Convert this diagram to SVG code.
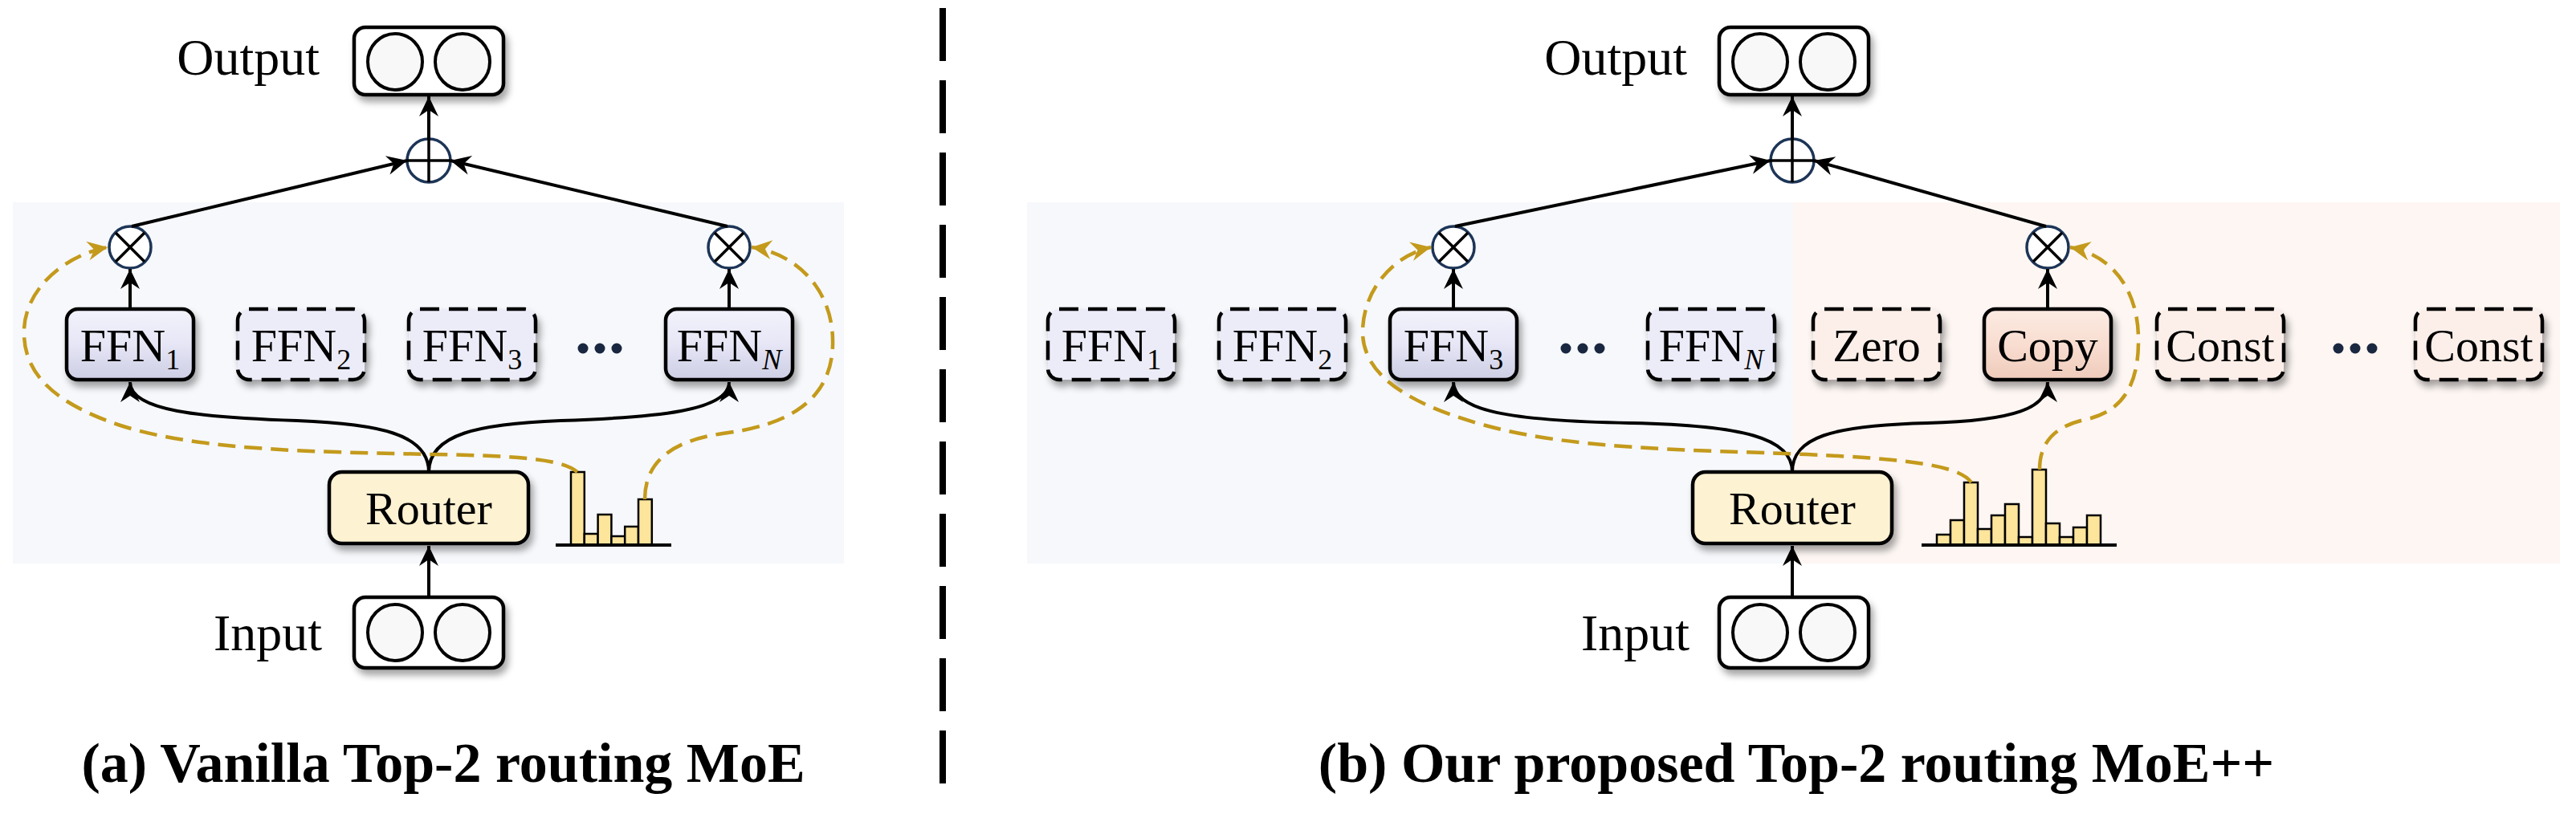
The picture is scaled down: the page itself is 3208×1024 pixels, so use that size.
<svg xmlns="http://www.w3.org/2000/svg" width="3208" height="1024" viewBox="0 0 3208 1024">
<defs>
<style>
.lbl{font-family:"Liberation Serif","Times New Roman",serif;fill:#000}
.io{font-size:64px}
.box{font-size:58px}
.sub{font-size:36px}
.cap{font-size:70px;font-weight:bold}
.frame{fill:#fff;stroke:#000;stroke-width:4.5}
.tok{fill:#f8f8f8;stroke:#000;stroke-width:4}
.ffn{fill:url(#gBlue);stroke:#000;stroke-width:4.5}
.ffnd{fill:#ececf9;stroke:#000;stroke-width:4.5;stroke-dasharray:24 12}
.spd{fill:#fcefe9;stroke:#000;stroke-width:4.5;stroke-dasharray:24 12}
.copy{fill:url(#gPink);stroke:#000;stroke-width:4.5}
.router{fill:#fdf2d2;stroke:#000;stroke-width:4.5}
.op{fill:#fff;stroke:#1d3557;stroke-width:3.5}
.opl{stroke:#000;stroke-width:3.5}
.bar{fill:#fde59b;stroke:#000;stroke-width:2.5}
.base{stroke:#000;stroke-width:4}
.dot{fill:#1a2740}
.c{fill:none;stroke:#000;stroke-width:4}
.g{fill:none;stroke:#c49a1c;stroke-width:4.5;stroke-dasharray:22 11}
</style>
<linearGradient id="gBlue" x1="0" y1="0" x2="0" y2="1">
<stop offset="0" stop-color="#f3f3fc"/><stop offset="0.5" stop-color="#e6e6f6"/><stop offset="1" stop-color="#cdcde4"/>
</linearGradient>
<linearGradient id="gPink" x1="0" y1="0" x2="0" y2="1">
<stop offset="0" stop-color="#fcebe3"/><stop offset="0.5" stop-color="#f8ddd0"/><stop offset="1" stop-color="#efcbbb"/>
</linearGradient>
<filter id="sh" x="-20%" y="-20%" width="150%" height="170%">
<feDropShadow dx="4" dy="7" stdDeviation="4" flood-color="#000" flood-opacity="0.35"/>
</filter>
<marker id="ah" markerUnits="userSpaceOnUse" markerWidth="28" markerHeight="28" viewBox="-26 -14 28 28" refX="0" refY="0" orient="auto">
<path d="M0,0 L-25,-12 L-17,0 L-25,12 Z" fill="#000"/>
</marker>
<marker id="ahg" markerUnits="userSpaceOnUse" markerWidth="28" markerHeight="28" viewBox="-26 -14 28 28" refX="0" refY="0" orient="auto">
<path d="M0,0 L-25,-12 L-17,0 L-25,12 Z" fill="#c49a1c"/>
</marker>
</defs>

<rect width="3208" height="1024" fill="#fff"/>

<g id="backgrounds">
<rect x="16" y="252" width="1035" height="450" fill="#f6f8fb"/>
<rect x="1279" y="252" width="954" height="450" fill="#f6f8fb"/>
<rect x="2233" y="252" width="955" height="450" fill="#fdf6f3"/>
</g>

<line id="divider" x1="1174" y1="10" x2="1174" y2="980" stroke="#000" stroke-width="8" stroke-dasharray="66 24"/>

<!-- Panel (a) -->
<g id="a-output">
<text class="lbl io" x="398" y="93" text-anchor="end">Output</text>
<rect class="frame" x="441" y="34" width="186" height="84" rx="14" filter="url(#sh)"/>
<ellipse class="tok" cx="492" cy="77" rx="34" ry="35"/>
<ellipse class="tok" cx="576" cy="77" rx="34" ry="35"/>
</g>
<g id="a-plus">
<circle class="op" cx="534" cy="200" r="27"/>
<line class="opl" x1="507" y1="200" x2="561" y2="200"/>
<line class="opl" x1="534" y1="173" x2="534" y2="227"/>
</g>
<g id="a-mul1">
<circle class="op" cx="162" cy="308" r="26"/>
<line class="opl" x1="144" y1="290" x2="180" y2="326"/>
<line class="opl" x1="180" y1="290" x2="144" y2="326"/>
</g>
<g id="a-mulN">
<circle class="op" cx="908" cy="308" r="26"/>
<line class="opl" x1="890" y1="290" x2="926" y2="326"/>
<line class="opl" x1="926" y1="290" x2="890" y2="326"/>
</g>
<g id="a-ffn1">
<rect class="ffn" x="83" y="385" width="158" height="88" rx="14" filter="url(#sh)"/>
<text class="lbl box" x="162" y="450" text-anchor="middle">FFN<tspan class="sub" dy="10">1</tspan></text>
</g>
<g id="a-ffn2">
<rect class="ffnd" x="296" y="385" width="158" height="88" rx="14" filter="url(#sh)"/>
<text class="lbl box" x="375" y="450" text-anchor="middle">FFN<tspan class="sub" dy="10">2</tspan></text>
</g>
<g id="a-ffn3">
<rect class="ffnd" x="509" y="385" width="158" height="88" rx="14" filter="url(#sh)"/>
<text class="lbl box" x="588" y="450" text-anchor="middle">FFN<tspan class="sub" dy="10">3</tspan></text>
</g>
<g id="a-dots">
<circle class="dot" cx="726" cy="434" r="6.5"/>
<circle class="dot" cx="747" cy="434" r="6.5"/>
<circle class="dot" cx="768" cy="434" r="6.5"/>
</g>
<g id="a-ffnN">
<rect class="ffn" x="829" y="385" width="158" height="88" rx="14" filter="url(#sh)"/>
<text class="lbl box" x="908" y="450" text-anchor="middle">FFN<tspan class="sub" dy="10" font-style="italic">N</tspan></text>
</g>
<g id="a-router">
<rect class="router" x="410" y="588" width="248" height="89" rx="16" filter="url(#sh)"/>
<text class="lbl box" x="534" y="653" text-anchor="middle">Router</text>
</g>
<g id="a-hist">
<rect class="bar" x="711" y="588" width="16.8" height="91"/>
<rect class="bar" x="727.8" y="665" width="16.8" height="14"/>
<rect class="bar" x="744.6" y="641" width="16.8" height="38"/>
<rect class="bar" x="761.4" y="668" width="16.8" height="11"/>
<rect class="bar" x="778.2" y="656" width="16.8" height="23"/>
<rect class="bar" x="795" y="622" width="16.8" height="57"/>
<line class="base" x1="692" y1="679" x2="836" y2="679"/>
</g>
<g id="a-input">
<text class="lbl io" x="401" y="810" text-anchor="end">Input</text>
<rect class="frame" x="441" y="744" width="186" height="88" rx="14" filter="url(#sh)"/>
<ellipse class="tok" cx="492" cy="788" rx="34" ry="35"/>
<ellipse class="tok" cx="576" cy="788" rx="34" ry="35"/>
</g>

<!-- Panel (b) -->
<g id="b-output">
<text class="lbl io" x="2101" y="93" text-anchor="end">Output</text>
<rect class="frame" x="2141" y="34" width="186" height="84" rx="14" filter="url(#sh)"/>
<ellipse class="tok" cx="2192" cy="77" rx="34" ry="35"/>
<ellipse class="tok" cx="2276" cy="77" rx="34" ry="35"/>
</g>
<g id="b-plus">
<circle class="op" cx="2232" cy="200" r="27"/>
<line class="opl" x1="2205" y1="200" x2="2259" y2="200"/>
<line class="opl" x1="2232" y1="173" x2="2232" y2="227"/>
</g>
<g id="b-mul3">
<circle class="op" cx="1810" cy="308" r="26"/>
<line class="opl" x1="1792" y1="290" x2="1828" y2="326"/>
<line class="opl" x1="1828" y1="290" x2="1792" y2="326"/>
</g>
<g id="b-mulC">
<circle class="op" cx="2550" cy="308" r="26"/>
<line class="opl" x1="2532" y1="290" x2="2568" y2="326"/>
<line class="opl" x1="2568" y1="290" x2="2532" y2="326"/>
</g>
<g id="b-ffn1">
<rect class="ffnd" x="1305" y="385" width="158" height="88" rx="14" filter="url(#sh)"/>
<text class="lbl box" x="1384" y="450" text-anchor="middle">FFN<tspan class="sub" dy="10">1</tspan></text>
</g>
<g id="b-ffn2">
<rect class="ffnd" x="1518" y="385" width="158" height="88" rx="14" filter="url(#sh)"/>
<text class="lbl box" x="1597" y="450" text-anchor="middle">FFN<tspan class="sub" dy="10">2</tspan></text>
</g>
<g id="b-ffn3">
<rect class="ffn" x="1731" y="385" width="158" height="88" rx="14" filter="url(#sh)"/>
<text class="lbl box" x="1810" y="450" text-anchor="middle">FFN<tspan class="sub" dy="10">3</tspan></text>
</g>
<g id="b-dots1">
<circle class="dot" cx="1950" cy="434" r="6.5"/>
<circle class="dot" cx="1971" cy="434" r="6.5"/>
<circle class="dot" cx="1992" cy="434" r="6.5"/>
</g>
<g id="b-ffnN">
<rect class="ffnd" x="2052" y="385" width="158" height="88" rx="14" filter="url(#sh)"/>
<text class="lbl box" x="2131" y="450" text-anchor="middle">FFN<tspan class="sub" dy="10" font-style="italic">N</tspan></text>
</g>
<g id="b-zero">
<rect class="spd" x="2258" y="385" width="158" height="88" rx="14" filter="url(#sh)"/>
<text class="lbl box" x="2337" y="450" text-anchor="middle">Zero</text>
</g>
<g id="b-copy">
<rect class="copy" x="2471" y="385" width="158" height="88" rx="14" filter="url(#sh)"/>
<text class="lbl box" x="2550" y="450" text-anchor="middle">Copy</text>
</g>
<g id="b-const1">
<rect class="spd" x="2686" y="385" width="158" height="88" rx="14" filter="url(#sh)"/>
<text class="lbl box" x="2765" y="450" text-anchor="middle">Const</text>
</g>
<g id="b-dots2">
<circle class="dot" cx="2912" cy="434" r="6.5"/>
<circle class="dot" cx="2933" cy="434" r="6.5"/>
<circle class="dot" cx="2954" cy="434" r="6.5"/>
</g>
<g id="b-const2">
<rect class="spd" x="3008" y="385" width="158" height="88" rx="14" filter="url(#sh)"/>
<text class="lbl box" x="3087" y="450" text-anchor="middle">Const</text>
</g>
<g id="b-router">
<rect class="router" x="2108" y="588" width="248" height="89" rx="16" filter="url(#sh)"/>
<text class="lbl box" x="2232" y="653" text-anchor="middle">Router</text>
</g>
<g id="b-hist">
<rect class="bar" x="2412" y="666" width="17" height="13"/>
<rect class="bar" x="2429" y="648" width="17" height="31"/>
<rect class="bar" x="2446" y="601" width="17" height="78"/>
<rect class="bar" x="2463" y="659" width="17" height="20"/>
<rect class="bar" x="2480" y="642" width="17" height="37"/>
<rect class="bar" x="2497" y="628" width="17" height="51"/>
<rect class="bar" x="2514" y="669" width="17" height="10"/>
<rect class="bar" x="2531" y="585" width="17" height="94"/>
<rect class="bar" x="2548" y="652" width="17" height="27"/>
<rect class="bar" x="2565" y="669" width="17" height="10"/>
<rect class="bar" x="2582" y="657" width="17" height="22"/>
<rect class="bar" x="2599" y="642" width="17" height="37"/>
<line class="base" x1="2393" y1="679" x2="2636" y2="679"/>
</g>
<g id="b-input">
<text class="lbl io" x="2104" y="810" text-anchor="end">Input</text>
<rect class="frame" x="2141" y="744" width="186" height="88" rx="14" filter="url(#sh)"/>
<ellipse class="tok" cx="2192" cy="788" rx="34" ry="35"/>
<ellipse class="tok" cx="2276" cy="788" rx="34" ry="35"/>
</g>

<g id="connectors">
<!-- panel a -->
<path class="c" d="M534,744 L534,680" marker-end="url(#ah)"/>
<path class="c" d="M534,588 C534,540 470,528 370,524 C250,520 162,512 162,476" marker-end="url(#ah)"/>
<path class="c" d="M534,588 C534,540 598,528 698,524 C818,520 908,512 908,476" marker-end="url(#ah)"/>
<path class="c" d="M162,385 L162,335" marker-end="url(#ah)"/>
<path class="c" d="M908,385 L908,335" marker-end="url(#ah)"/>
<path class="c" d="M164,282 L507,200" marker-end="url(#ah)"/>
<path class="c" d="M906,282 L561,200" marker-end="url(#ah)"/>
<path class="c" d="M534,173 L534,120" marker-end="url(#ah)"/>
<path class="g" d="M719,588 C700,572 650,568 540,566 C400,563 250,562 150,530 C60,500 28,460 30,410 C32,360 80,318 134,308" marker-end="url(#ahg)"/>
<path class="g" d="M803,622 C803,580 830,550 900,540 C980,530 1035,500 1037,430 C1039,360 990,315 936,308" marker-end="url(#ahg)"/>
<!-- panel b -->
<path class="c" d="M2232,744 L2232,680" stroke="#333" marker-end="url(#ah)"/>
<path class="c" d="M2232,588 C2232,545 2170,530 2030,527 C1880,524 1810,512 1810,476" marker-end="url(#ah)"/>
<path class="c" d="M2232,588 C2232,545 2280,530 2400,527 C2510,524 2550,508 2550,476" marker-end="url(#ah)"/>
<path class="c" d="M1810,385 L1810,335" marker-end="url(#ah)"/>
<path class="c" d="M2550,385 L2550,335" marker-end="url(#ah)"/>
<path class="c" d="M1812,282 L2205,200" marker-end="url(#ah)"/>
<path class="c" d="M2548,282 L2259,200" marker-end="url(#ah)"/>
<path class="c" d="M2232,173 L2232,120" marker-end="url(#ah)"/>
<path class="g" d="M2455,601 C2440,580 2380,572 2250,566 C2100,560 1960,560 1850,530 C1740,500 1695,460 1697,410 C1699,360 1735,318 1782,308" marker-end="url(#ahg)"/>
<path class="g" d="M2540,585 C2540,550 2560,530 2600,522 C2650,510 2664,470 2663,420 C2662,360 2630,318 2578,308" marker-end="url(#ahg)"/>
</g>

<g id="captions">
<text class="lbl cap" x="552" y="974" text-anchor="middle">(a) Vanilla Top-2 routing MoE</text>
<text class="lbl cap" x="2237" y="974" text-anchor="middle">(b) Our proposed Top-2 routing MoE++</text>
</g>
</svg>
